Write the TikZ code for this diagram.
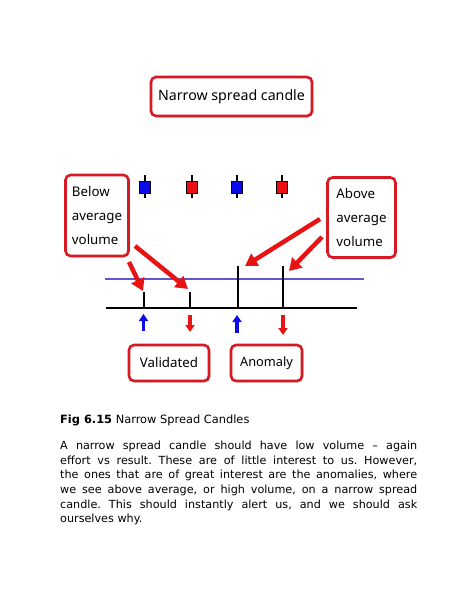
\documentclass[tikz,border=0pt]{standalone}
\usepackage{fontspec}
\setmainfont{DejaVu Sans}
\newfontfamily\boxfont{Noto Sans}
\usetikzlibrary{arrows.meta,shadows}
\definecolor{boxred}{RGB}{215,25,35}
\definecolor{arrred}{RGB}{232,20,20}
\definecolor{candblue}{RGB}{10,10,235}
\definecolor{candred}{RGB}{235,15,15}
\definecolor{avgblue}{RGB}{90,90,205}
\tikzset{
  redbox/.style={draw=boxred, line width=2.6pt, rounded corners=5pt, fill=white,
    drop shadow={shadow xshift=1.5pt, shadow yshift=-1.5pt, opacity=0.25},
    inner sep=0pt, font=\boxfont},
  candle/.style={draw=black, line width=0.9pt, minimum width=11pt, minimum height=12pt, inner sep=0pt},
  wick/.style={black, line width=1.2pt},
  bar/.style={black, line width=1.5pt},
  bigarrow/.style={arrred, line width=4.5pt, -{Triangle[length=12pt,width=14pt]}},
  upblue/.style={candblue, line width=3.5pt, -{Triangle[length=7pt,width=9pt]}},
  downred/.style={arrred, line width=3.5pt, -{Triangle[length=7pt,width=9pt]}},
}
\begin{document}
\begin{tikzpicture}[x=1pt,y=-1pt]
\path[use as bounding box, fill=white] (0,0) rectangle (474,613);

% title
\node[redbox, minimum width=161pt, minimum height=39pt, font=\boxfont\fontsize{14.2}{17}\selectfont] (title) at (231.5,96.5) {Narrow spread candle};

% label boxes
\node[redbox, minimum width=63pt, minimum height=81pt, align=left, font=\boxfont\fontsize{13.3}{24}\selectfont] (below) at (97,215.5) {Below\\average\\volume};
\node[redbox, minimum width=68pt, minimum height=80pt, align=left, font=\boxfont\fontsize{13.3}{24}\selectfont] (above) at (361.5,217.5) {Above\\average\\volume};

% candles
\foreach \n/\x/\c in {c1/145/candblue, c2/192/candred, c3/237/candblue, c4/282/candred}{
  \coordinate (\n t) at (\x,175);
  \coordinate (\n b) at (\x,198);
  \draw[wick] (\n t) -- (\n b);
  \node[candle, fill=\c] (\n) at (\x,187.5) {};
}

% average line and baseline
\coordinate (avgL) at (105,279);
\coordinate (avgR) at (364,279);
\draw[avgblue, line width=1.1pt] (avgL) -- (avgR);
\coordinate (baseL) at (106,308);
\coordinate (baseR) at (357,308);
\draw[black, line width=2pt] (baseL) -- (baseR);

% volume bars
\coordinate (v1t) at (144,292); \coordinate (v1b) at (144,308);
\coordinate (v2t) at (190,292); \coordinate (v2b) at (190,308);
\coordinate (v3t) at (238,266); \coordinate (v3b) at (238,308);
\coordinate (v4t) at (283,266); \coordinate (v4b) at (283,308);
\draw[bar] (v1t) -- (v1b);
\draw[bar] (v2t) -- (v2b);
\draw[bar] (v3t) -- (v3b);
\draw[bar] (v4t) -- (v4b);

% big red arrows
\coordinate (a1s) at (129,262); \coordinate (a1e) at (143,291);
\coordinate (a2s) at (135,246); \coordinate (a2e) at (188,289);
\coordinate (a3s) at (320,219); \coordinate (a3e) at (245,266);
\coordinate (a4s) at (322,237); \coordinate (a4e) at (289,271);
\draw[bigarrow] (a1s) -- (a1e);
\draw[bigarrow] (a2s) -- (a2e);
\draw[bigarrow] (a3s) -- (a3e);
\draw[bigarrow] (a4s) -- (a4e);

% small arrows
\coordinate (s1b) at (143.5,331); \coordinate (s1t) at (143.5,314);
\coordinate (s2t) at (190,315); \coordinate (s2b) at (190,332);
\coordinate (s3b) at (237,333); \coordinate (s3t) at (237,315);
\coordinate (s4t) at (283,315); \coordinate (s4b) at (283,335);
\draw[upblue] (s1b) -- (s1t);
\draw[downred] (s2t) -- (s2b);
\draw[upblue] (s3b) -- (s3t);
\draw[downred] (s4t) -- (s4b);

% bottom boxes
\node[redbox, minimum width=80pt, minimum height=36pt, font=\boxfont\fontsize{13.3}{16}\selectfont] (valid) at (169,363) {Validated};
\node[redbox, minimum width=71pt, minimum height=36pt, font=\boxfont\fontsize{12.8}{16}\selectfont] (anom) at (266.5,363) {Anomaly};

% caption
\node[anchor=west, inner sep=0pt, font=\fontsize{11.4}{13}\selectfont] (cap) at (60,420) {\textbf{Fig 6.15} Narrow Spread Candles};
\node[anchor=north west, inner sep=0pt, text width=357pt, align=justify, font=\fontsize{11.2}{14.6}\selectfont] (para) at (60,441)
{\frenchspacing A narrow spread candle should have low volume -- again\linebreak
effort vs result. These are of little interest to us. However,\linebreak
the ones that are of great interest are the anomalies, where\linebreak
we see above average, or high volume, on a narrow spread\linebreak
candle. This should instantly alert us, and we should ask\linebreak
ourselves why.};
\end{tikzpicture}
\end{document}
